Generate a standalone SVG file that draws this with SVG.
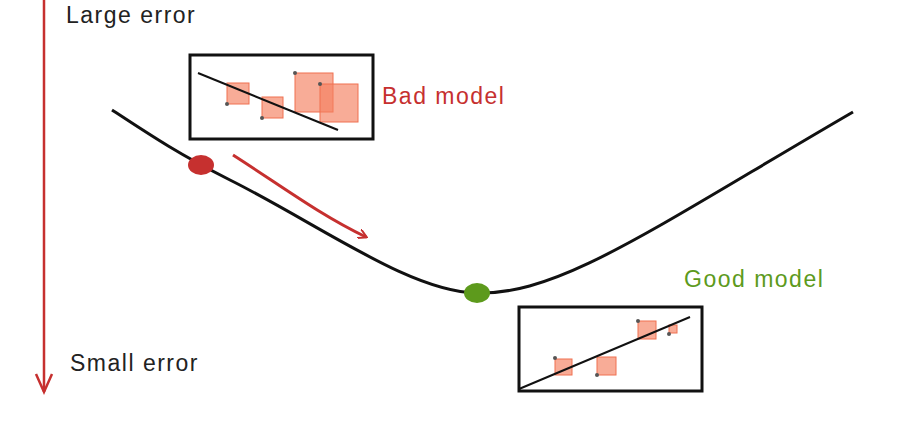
<svg xmlns="http://www.w3.org/2000/svg" width="900" height="436" viewBox="0 0 900 436">
<defs>
<style>
.t{font-family:"Comic Sans MS","Liberation Sans",sans-serif;font-size:23px;letter-spacing:1.5px}
.box{fill:#fff;stroke:#111;stroke-width:3}
.sq{fill:#f4805f;fill-opacity:0.65;stroke:#f07050;stroke-width:1}
.dot{fill:#555}
</style>
<marker id="ah" markerWidth="10" markerHeight="10" refX="8" refY="5" orient="auto" markerUnits="userSpaceOnUse" viewBox="0 0 10 10"><path d="M0,0 L9,5 L0,10" fill="none" stroke="#c6302f" stroke-width="2"/></marker>
</defs>
<rect width="900" height="436" fill="#fff"/>
<g id="connectors">
<line x1="44" y1="0" x2="44" y2="392" stroke="#c6302f" stroke-width="2.5"/>
<path d="M36,374 L44,392 L52,374" fill="none" stroke="#c6302f" stroke-width="2.5"/>
<path d="M112,110 C150,135 180,155 230,180 C320,225 410,292 477,293 C560,295 650,230 853,112" fill="none" stroke="#111" stroke-width="3"/>
<path d="M233,155 C280,185 320,215 366,237" fill="none" stroke="#c6302f" stroke-width="3" marker-end="url(#ah)"/>
</g>
<g id="labels">
<text class="t" x="66" y="23" fill="#222">Large error</text>
<text class="t" x="70" y="371" fill="#222">Small error</text>
<text class="t" x="382" y="104" fill="#c6302f">Bad model</text>
<text class="t" x="684" y="287" fill="#5d9a1c">Good model</text>
</g>
<g id="red-dot"><ellipse cx="201" cy="165" rx="13" ry="10" fill="#c6302f"/></g>
<g id="green-dot"><ellipse cx="477" cy="293" rx="13" ry="10" fill="#5d9a1c"/></g>
<g id="bad-model">
<rect class="box" x="190" y="55" width="183" height="84"/>
<rect class="sq" x="227" y="83" width="22" height="21"/>
<rect class="sq" x="262" y="97" width="21" height="21"/>
<rect class="sq" x="295" y="73" width="38" height="39"/>
<rect class="sq" x="320" y="84" width="38" height="38"/>
<line x1="198" y1="73" x2="338" y2="130" stroke="#111" stroke-width="2"/>
<circle class="dot" cx="227" cy="104" r="2"/><circle class="dot" cx="262" cy="118" r="2"/>
<circle class="dot" cx="295" cy="73" r="2"/><circle class="dot" cx="320" cy="84" r="2"/>
</g>
<g id="good-model">
<rect class="box" x="519" y="307" width="183" height="84"/>
<rect class="sq" x="555" y="359" width="17" height="16"/>
<rect class="sq" x="597" y="357" width="19" height="18"/>
<rect class="sq" x="638" y="321" width="18" height="18"/>
<rect class="sq" x="669" y="325" width="8" height="8"/>
<line x1="519" y1="389" x2="690" y2="317" stroke="#111" stroke-width="2"/>
<circle class="dot" cx="555" cy="358" r="2"/><circle class="dot" cx="597" cy="375" r="2"/>
<circle class="dot" cx="638" cy="321" r="2"/><circle class="dot" cx="669" cy="334" r="2"/>
</g>
</svg>
